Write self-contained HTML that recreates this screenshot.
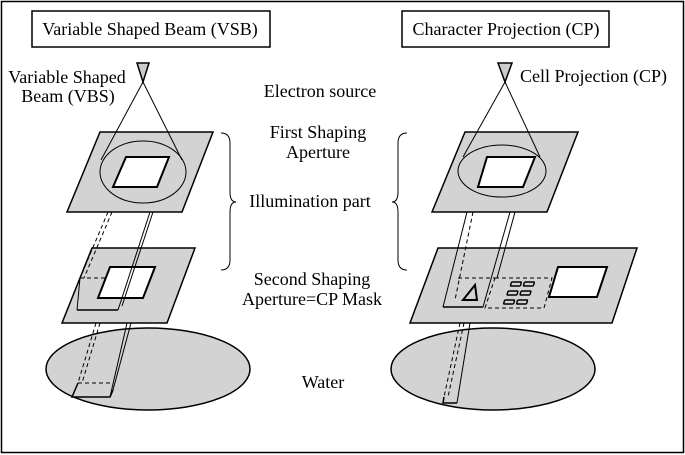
<!DOCTYPE html>
<html><head><style>
html,body{margin:0;padding:0;background:#fff}
svg{display:block}
text{font-family:"Liberation Serif",serif;fill:#000}
</style></head><body>
<svg width="685" height="455" viewBox="0 0 685 455" xmlns="http://www.w3.org/2000/svg">
<rect x="1.5" y="1.5" width="682" height="451" fill="none" stroke="#000" stroke-width="1.5"/>
<rect x="32" y="11" width="238" height="36" fill="none" stroke="#000" stroke-width="1.5"/>
<text x="150" y="35" font-size="18" text-anchor="middle">Variable Shaped Beam (VSB)</text>
<rect x="402" y="11" width="207" height="36" fill="none" stroke="#000" stroke-width="1.5"/>
<text x="506" y="35" font-size="18" text-anchor="middle">Character Projection (CP)</text>

<g font-size="18" text-anchor="middle">
<text x="67" y="83">Variable Shaped</text>
<text x="68" y="102">Beam (VBS)</text>
<text x="320" y="97">Electron source</text>
<text x="318" y="138">First Shaping</text>
<text x="318" y="158">Aperture</text>
<text x="310" y="207">Illumination part</text>
<text x="312" y="285">Second Shaping</text>
<text x="312" y="305">Aperture=CP Mask</text>
<text x="323" y="388">Water</text>
</g>
<text x="520" y="82" font-size="18">Cell Projection (CP)</text>
<text x="556" y="264" font-size="17">forVSB</text>

<g fill="none" stroke="#000" stroke-width="1">
<path d="M221 133 Q230 133 230 143 L230 192 Q230 202 236 202 Q230 202 230 212 L230 260 Q230 270 221 270"/>
<path d="M407 133 Q398 133 398 143 L398 192 Q398 202 392 202 Q398 202 398 212 L398 260 Q398 270 407 270"/>
</g>

<!-- LEFT -->
<g stroke="#000">
<ellipse cx="148" cy="369" rx="102" ry="41" fill="#d3d3d3" stroke-width="1.5"/>
<polygon points="92,248 195,248 167,323 62,323" fill="#d3d3d3" stroke-width="1.5"/>
<polygon points="110,267 155,267 143,298 98,298" fill="#fff" stroke-width="2"/>
<polygon points="100,132 213,132 182,212 67,212" fill="#d3d3d3" stroke-width="1.5"/>
<ellipse cx="143" cy="172" rx="43" ry="31" fill="none" stroke-width="1"/>
<polygon points="126,157 169,157 157,187 113,187" fill="#fff" stroke-width="2"/>
<line x1="143" y1="82" x2="101" y2="160" stroke-width="1"/>
<line x1="143" y1="82" x2="182" y2="160" stroke-width="1"/>
<polygon points="137,63 149,63 143,82" fill="#ccc" stroke-width="1.5"/>
<g stroke-width="1" fill="none">
<line x1="150" y1="212" x2="118" y2="310"/><line x1="153" y1="212" x2="122" y2="306"/>
<line x1="108" y1="212" x2="80" y2="278" stroke-dasharray="4,3"/><line x1="112" y1="212" x2="84" y2="278" stroke-dasharray="4,3"/>
<line x1="80" y1="278" x2="107" y2="278" stroke-dasharray="4,3"/>
<line x1="80" y1="278" x2="77" y2="310"/>
<polyline points="77,310 118,310" stroke-width="1.5"/>
<line x1="127" y1="323" x2="110" y2="397"/><line x1="131" y1="323" x2="113" y2="390"/>
<line x1="96" y1="323" x2="78" y2="383" stroke-dasharray="4,3"/><line x1="100" y1="323" x2="82" y2="383" stroke-dasharray="4,3"/>
<line x1="78" y1="383" x2="110" y2="383" stroke-dasharray="4,3"/>
<polyline points="78,383 72,397 110,397 113,390" stroke-width="1.5"/>
</g>
</g>

<!-- RIGHT -->
<g stroke="#000">
<ellipse cx="493" cy="369" rx="102" ry="41" fill="#d3d3d3" stroke-width="1.5"/>
<polygon points="438,248 637,248 612,323 410,323" fill="#d3d3d3" stroke-width="1.5"/>
<polygon points="558,267 607,267 597,297 549,297" fill="#fff" stroke-width="2"/>
<polygon points="465,132 578,132 547,212 432,212" fill="#d3d3d3" stroke-width="1.5"/>
<ellipse cx="502" cy="171" rx="44" ry="26" fill="none" stroke-width="1"/>
<polygon points="487,157 535,157 523,187 478,187" fill="#fff" stroke-width="2"/>
<line x1="505" y1="82" x2="463" y2="157" stroke-width="1"/>
<line x1="505" y1="82" x2="540" y2="157" stroke-width="1"/>
<polygon points="498,63 512,63 505,82" fill="#ccc" stroke-width="1.5"/>
<g stroke-width="1" fill="none">
<line x1="467" y1="212" x2="443" y2="307"/>
<line x1="473" y1="212" x2="455" y2="300" stroke-dasharray="4,3"/>
<line x1="510" y1="212" x2="483" y2="307"/><line x1="515" y1="212" x2="497" y2="278"/>
<line x1="458" y1="278" x2="497" y2="278" stroke-dasharray="4,3"/>
<line x1="443" y1="307" x2="483" y2="307" stroke-width="1.5"/>
<polygon points="495,278 552,278 544,308 485,308" stroke-dasharray="4,3"/>
<polygon points="463,300 477,300 475,285" stroke-width="2"/>
<g stroke-width="1.5">
<rect x="511" y="282" width="10" height="4" rx="1" transform="skewX(-15) translate(76,0)"/>
<rect x="524" y="282" width="10" height="4" rx="1" transform="skewX(-15) translate(76,0)"/>
<rect x="508" y="291" width="10" height="4" rx="1" transform="skewX(-15) translate(78,0)"/>
<rect x="521" y="291" width="10" height="4" rx="1" transform="skewX(-15) translate(78,0)"/>
<rect x="505" y="300" width="10" height="4" rx="1" transform="skewX(-15) translate(80,0)"/>
<rect x="518" y="300" width="10" height="4" rx="1" transform="skewX(-15) translate(80,0)"/>
</g>
<line x1="460" y1="323" x2="444" y2="397" stroke-dasharray="4,3"/>
<line x1="464" y1="323" x2="448" y2="397" stroke-dasharray="4,3"/>
<line x1="470" y1="323" x2="457" y2="403"/>
<polyline points="444,397 443,403 457,403" stroke-width="1.5"/>
</g>
</g>
</svg>
</body></html>
